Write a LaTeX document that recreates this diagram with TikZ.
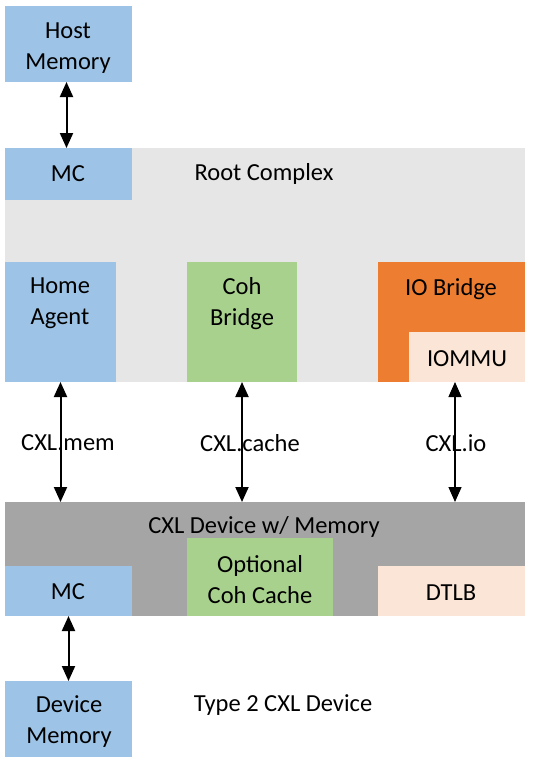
\documentclass[tikz,border=0pt]{standalone}
\usepackage{fontspec}
\setmainfont{Carlito}
\usetikzlibrary{arrows.meta,calc}
\definecolor{rcgrey}{HTML}{E7E6E6}
\definecolor{devgrey}{HTML}{A5A5A5}
\definecolor{boxblue}{HTML}{9DC3E6}
\definecolor{boxgreen}{HTML}{A9D18E}
\definecolor{boxorange}{HTML}{ED7D31}
\definecolor{boxpeach}{HTML}{FBE5D6}
\tikzset{
  blk/.style={anchor=north west, inner sep=0pt, outer sep=0pt, draw=none},
  txt/.style={font=\fontsize{24.5}{31}\selectfont, align=center, inner sep=0pt, text=black, yshift=-2pt},
  arr/.style={{Triangle[width=13pt,length=15pt]}-{Triangle[width=13pt,length=15pt]}, line width=2pt},
  arrthin/.style={{Triangle[width=13pt,length=15pt]}-{Triangle[width=13pt,length=15pt]}, line width=1.2pt},
}
\begin{document}
\begin{tikzpicture}[x=1pt,y=-1pt]
\useasboundingbox (0,0) rectangle (537,768);
% boxes
\node[blk, fill=boxblue, minimum width=127pt, minimum height=76pt] (hm) at (5,6) {};
\node[blk, fill=rcgrey, minimum width=520pt, minimum height=234pt] (rc) at (5,148) {};
\node[blk, fill=boxblue, minimum width=127pt, minimum height=52pt] (mc1) at (5,148) {};
\node[blk, fill=boxblue, minimum width=111pt, minimum height=120pt] (ha) at (5,262) {};
\node[blk, fill=boxgreen, minimum width=110pt, minimum height=120pt] (cb) at (187,262) {};
\node[blk, fill=boxorange, minimum width=147pt, minimum height=120pt] (iob) at (378,262) {};
\node[blk, fill=boxpeach, minimum width=116pt, minimum height=50pt] (iommu) at (409,332) {};
\node[blk, fill=devgrey, minimum width=520pt, minimum height=114pt] (dev) at (5,502) {};
\node[blk, fill=boxblue, minimum width=127pt, minimum height=50pt] (mc2) at (5,566) {};
\node[blk, fill=boxgreen, minimum width=146pt, minimum height=78pt] (occ) at (187,538) {};
\node[blk, fill=boxpeach, minimum width=147pt, minimum height=50pt] (dtlb) at (378,566) {};
\node[blk, fill=boxblue, minimum width=127pt, minimum height=76pt] (dm) at (5,681) {};
% texts
\node[txt] (thm) at (68,46) {Host\\Memory};
\node[txt] (tmc1) at (68,172) {MC};
\node[txt] (trc) at (264,172) {Root Complex};
\node[txt] (tha) at (60,301) {Home\\Agent};
\node[txt] (tcb) at (242,302) {Coh\\Bridge};
\node[txt] (tiob) at (451,287) {IO Bridge};
\node[txt] (tiommu) at (467,357) {IOMMU};
\node[txt] (tdev) at (264,525) {CXL Device w/ Memory};
\node[txt] (tmc2) at (68,590) {MC};
\node[txt] (tocc) at (260,578) {Optional\\Coh Cache};
\node[txt] (tdtlb) at (451,591) {DTLB};
\node[txt] (tdm) at (69,720) {Device\\Memory};
\node[txt] (ttype) at (283,703) {Type 2 CXL Device};
% link labels
\node[txt] (lmem) at (68,441) {CXL.mem};
\node[txt] (lcache) at (250,441) {CXL.cache};
\node[txt] (lio) at (456,441) {CXL.io};
% arrows
\draw[arr] ([xshift=-2pt]hm.south) -- ([xshift=-2pt]mc1.north);
\draw[arr] (ha.south) -- (ha.south |- dev.north);
\draw[arr] (cb.south) -- (cb.south |- dev.north);
\coordinate (ioa) at ([xshift=-12pt]iommu.south);
\draw[arrthin] (ioa) -- (ioa |- dev.north);
\draw[arr] (mc2.south) -- (dm.north);
\end{tikzpicture}
\end{document}
